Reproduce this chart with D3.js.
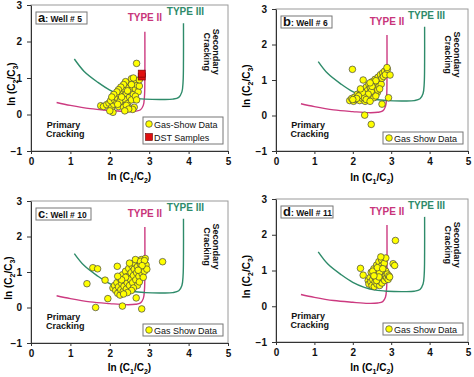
<!DOCTYPE html>
<html>
<head>
<meta charset="utf-8">
<script src="https://cdn.jsdelivr.net/npm/d3@7"></script>
<style>
  body { margin: 0; background: #fff; }
  svg { font-family: Arial, "Liberation Sans", sans-serif; }
</style>
</head>
<body>
<div id="chart"></div>
<script>
// tick values
const xTicks = [0, 1, 2, 3, 4, 5];
const yTicks = [-1, 0, 1, 2, 3];

// maturation curves (ln C1/C2, ln C2/C3)
const typeII = [[0.65,0.33],[1.0,0.25],[1.5,0.16],[2.0,0.11],[2.4,0.08],[2.65,0.09],[2.78,0.13],[2.85,0.25],[2.88,0.5],[2.89,1.0],[2.89,2.27]];
const typeIII = [[1.1,1.52],[1.35,1.18],[1.7,0.88],[2.0,0.67],[2.3,0.53],[2.6,0.45],[2.9,0.42],[3.3,0.41],[3.6,0.42],[3.75,0.47],[3.83,0.62],[3.86,0.9],[3.87,1.5],[3.87,2.5]];

// gas show data per well
const well5 = [[1.77,0.24],[1.84,0.22],[1.92,0.27],[1.98,0.31],[2.05,0.20],[2.08,0.06],[2.10,0.28],[2.02,0.38],[2.12,0.40],[2.18,0.33],[2.22,0.22],[2.15,0.50],[2.20,0.45],[2.25,0.55],[2.28,0.42],[2.32,0.30],[2.35,0.20],[2.30,0.62],[2.35,0.50],[2.38,0.68],[2.40,0.40],[2.42,0.58],[2.45,0.30],[2.48,0.72],[2.50,0.48],[2.52,0.62],[2.45,0.80],[2.50,0.88],[2.55,0.98],[2.58,0.75],[2.60,0.55],[2.55,0.40],[2.62,0.88],[2.65,0.70],[2.68,0.92],[2.70,0.80],[2.72,0.62],[2.75,0.78],[2.62,0.20],[2.58,0.14],[2.40,0.90],[2.35,0.82],[2.28,0.75],[2.22,0.68],[2.18,0.62],[2.10,0.55],[2.05,0.48],[2.25,0.35],[2.42,0.25],[2.48,0.15],[2.38,0.10],[2.68,1.40],[2.75,0.95],[2.65,0.50],[2.30,0.48],[2.55,0.82],[2.45,0.65],[2.60,1.00],[2.20,0.28],[2.00,0.10],[2.68,0.40]];
const dst5 = [[2.81,1.04],[2.81,1.12]];

const well6 = [[1.92,0.42],[1.97,0.48],[2.02,0.40],[2.05,0.52],[2.08,0.45],[2.12,0.60],[2.15,0.50],[2.18,0.42],[2.20,0.68],[2.22,0.58],[2.25,0.48],[2.28,0.72],[2.30,0.62],[2.32,0.40],[2.35,0.80],[2.36,0.55],[2.38,0.70],[2.40,0.45],[2.42,0.88],[2.44,0.62],[2.46,0.78],[2.48,0.50],[2.50,0.95],[2.52,0.70],[2.55,0.85],[2.56,0.58],[2.58,1.02],[2.60,0.75],[2.62,0.92],[2.64,0.65],[2.66,1.08],[2.68,0.82],[2.70,0.98],[2.72,1.15],[2.74,0.88],[2.76,1.05],[2.78,1.20],[2.80,1.10],[2.83,1.25],[2.85,1.15],[2.55,0.50],[2.60,0.55],[2.48,0.68],[2.40,0.60],[2.30,0.50],[2.25,0.65],[2.15,0.55],[2.10,0.48],[2.00,0.45],[2.35,0.45],[2.45,0.40],[2.65,0.72],[2.70,0.75],[2.50,0.82],[2.60,0.98],[2.45,0.92],[2.20,0.75],[2.90,1.30],[1.99,1.30],[2.27,1.00],[2.31,0.01],[2.48,-0.25],[2.76,0.32],[2.93,0.50],[2.97,1.14],[2.89,1.35]];

const well10 = [[2.08,0.55],[2.12,0.62],[2.15,0.48],[2.18,0.70],[2.20,0.40],[2.22,0.58],[2.25,0.82],[2.26,0.35],[2.28,0.50],[2.30,0.68],[2.32,0.92],[2.34,0.45],[2.36,0.60],[2.38,0.78],[2.40,1.02],[2.42,0.52],[2.44,0.70],[2.46,0.88],[2.48,1.10],[2.50,0.62],[2.52,0.80],[2.54,0.98],[2.56,1.18],[2.58,0.70],[2.60,0.90],[2.62,1.08],[2.64,1.25],[2.66,0.78],[2.68,0.98],[2.70,1.15],[2.72,1.32],[2.74,0.88],[2.76,1.05],[2.78,1.22],[2.80,1.35],[2.82,0.95],[2.84,1.12],[2.86,1.28],[2.88,1.02],[2.90,1.38],[2.92,1.20],[2.94,1.08],[2.70,0.62],[2.60,0.55],[2.55,0.48],[2.45,0.42],[2.35,0.38],[2.75,0.72],[2.85,0.85],[2.65,1.35],[2.50,1.25],[2.40,0.85],[2.30,0.78],[2.20,0.88],[2.78,1.30],[2.88,1.32],[2.82,1.18],[2.72,1.05],[1.42,0.67],[1.57,1.12],[1.69,1.09],[1.88,0.77],[1.95,0.25],[1.64,0.00],[2.19,1.16],[2.32,0.04],[2.67,0.27],[2.81,-0.04],[3.34,1.29]];

const well11 = [[2.40,0.72],[2.42,0.62],[2.45,0.80],[2.47,0.68],[2.48,0.95],[2.50,0.58],[2.52,0.75],[2.53,0.88],[2.55,1.05],[2.56,0.55],[2.58,0.68],[2.60,0.82],[2.60,0.95],[2.62,1.15],[2.63,0.62],[2.65,0.75],[2.66,0.90],[2.67,1.02],[2.68,1.25],[2.70,0.58],[2.71,0.70],[2.72,0.85],[2.73,1.00],[2.74,1.12],[2.75,1.30],[2.76,0.65],[2.78,0.78],[2.79,0.92],[2.80,1.08],[2.82,1.20],[2.83,0.72],[2.85,0.85],[2.86,0.98],[2.88,0.80],[2.90,0.90],[2.92,0.75],[2.94,0.85],[2.96,0.82],[2.58,0.80],[2.52,0.98],[2.62,0.72],[2.70,0.95],[2.68,0.82],[2.64,1.08],[2.78,1.05],[2.55,0.85],[3.11,1.84],[2.20,1.06],[2.27,0.87],[3.05,1.19],[3.09,1.14],[2.86,1.35],[2.73,1.38]];

const panels = [
  { letter: "a", well: ": Well # 5", pts: well5, dst: dst5, legend: "Gas-Show Data", xSub: ["1","2"], ySub: ["2","3"],
    l: 31, r: 228, t: 5, b: 151, xt: 180, yt: 12 },
  { letter: "b", well: ": Well # 6", pts: well6, dst: null, legend: "Gas Show Data", xSub: ["1","2"], ySub: ["2","3"],
    l: 276, r: 468, t: 9, b: 151, xt: 181, yt: 247 },
  { letter: "c", well: ": Well # 10", pts: well10, dst: null, legend: "Gas Show Data", xSub: ["1","2"], ySub: ["2","3"],
    l: 31, r: 228, t: 201, b: 343, xt: 371, yt: 9 },
  { letter: "d", well: ": Well # 11", pts: well11, dst: null, legend: "Gas Show Data", xSub: ["1","2"], ySub: ["2","3"],
    l: 276, r: 468, t: 199, b: 342, xt: 371, yt: 247 }
];

const width = 474, height = 377;
const svg = d3.select("#chart").append("svg")
    .attr("width", width).attr("height", height);

function subLabel(sel, s1, s2) { // "ln (C1/C2)" style label with subscripts
  sel.append("tspan").text("ln (C");
  sel.append("tspan").text(s1).attr("font-size", 7).attr("dy", 3);
  sel.append("tspan").text("/C").attr("dy", -3);
  sel.append("tspan").text(s2).attr("font-size", 7).attr("dy", 3);
  sel.append("tspan").text(")").attr("dy", -3);
}

panels.forEach(p => {
  const x = d3.scaleLinear().domain([0, 5]).range([p.l, p.r]);
  const y = d3.scaleLinear().domain([-1, 3]).range([p.b, p.t]);
  const g = svg.append("g");

  // plot frame
  g.append("rect")
    .attr("x", p.l).attr("y", p.t)
    .attr("width", p.r - p.l).attr("height", p.b - p.t)
    .attr("fill", "none").attr("stroke", "#9a9a9a").attr("stroke-width", 1);

  // axes
  const xa = g.append("g")
    .attr("transform", `translate(0,${p.b})`)
    .call(d3.axisBottom(x).tickValues(xTicks).tickFormat(d3.format("d")).tickSize(3).tickPadding(4).tickSizeOuter(0));
  const ya = g.append("g")
    .attr("transform", `translate(${p.l},0)`)
    .call(d3.axisLeft(y).tickValues(yTicks).tickFormat(d3.format("d")).tickSize(4).tickPadding(5).tickSizeOuter(0));
  [xa, ya].forEach(a => {
    a.select(".domain").attr("stroke", "#333");
    a.selectAll(".tick line").attr("stroke", "#333");
    a.selectAll("text").attr("font-size", 10).attr("font-weight", "bold").attr("fill", "#111")
      .attr("font-family", "Arial, 'Liberation Sans', sans-serif");
  });

  // axis titles
  g.append("text")
    .attr("x", (p.l + p.r) / 2).attr("y", p.xt)
    .attr("text-anchor", "middle").attr("font-size", 10).attr("font-weight", "bold")
    .call(subLabel, p.xSub[0], p.xSub[1]);
  g.append("text")
    .attr("transform", `translate(${p.yt + 3},${(p.t + p.b) / 2 + 6}) rotate(-90)`)
    .attr("text-anchor", "middle").attr("font-size", 10).attr("font-weight", "bold")
    .call(subLabel, p.ySub[0], p.ySub[1]);

  // curves
  const line = d3.line().x(d => x(d[0])).y(d => y(d[1])).curve(d3.curveCatmullRom.alpha(0.5));
  g.append("path").datum(typeII).attr("d", line)
    .attr("fill", "none").attr("stroke", "#cc3a80").attr("stroke-width", 1.4);
  g.append("path").datum(typeIII).attr("d", line)
    .attr("fill", "none").attr("stroke", "#2e8b6a").attr("stroke-width", 1.4);

  g.append("text").attr("x", x(2.89)).attr("y", y(2.55))
    .attr("text-anchor", "middle").attr("font-size", 10).attr("font-weight", "bold")
    .attr("fill", "#c8357a").text("TYPE II");
  g.append("text").attr("x", x(3.92)).attr("y", y(2.72))
    .attr("text-anchor", "middle").attr("font-size", 10).attr("font-weight", "bold")
    .attr("fill", "#2e8b6a").text("TYPE III");

  // cracking labels
  const pc = g.append("text").attr("font-size", 9).attr("font-weight", "bold").attr("fill", "#111");
  pc.append("tspan").attr("x", x(0.4)).attr("y", y(-0.28) + 3).text("Primary");
  pc.append("tspan").attr("x", x(0.38)).attr("y", y(-0.28) + 12).text("Cracking");

  const sc = g.append("text")
    .attr("transform", `translate(${x(4.5)},${y(1.72)}) rotate(90)`)
    .attr("text-anchor", "middle").attr("font-size", 9).attr("font-weight", "bold").attr("fill", "#111");
  sc.append("tspan").attr("x", 0).attr("y", -5).text("Secondary");
  sc.append("tspan").attr("x", 0).attr("y", 4).text("Cracking");

  // scatter points
  g.append("g").selectAll("circle")
    .data(p.pts)
    .join("circle")
    .attr("cx", d => x(d[0])).attr("cy", d => y(d[1]))
    .attr("r", 3.3)
    .attr("fill", "#ffff00").attr("stroke", "#444").attr("stroke-width", 0.7);

  if (p.dst) {
    g.append("g").selectAll("rect")
      .data(p.dst)
      .join("rect")
      .attr("x", d => x(d[0]) - 3.5).attr("y", d => y(d[1]) - 3.5)
      .attr("width", 7).attr("height", 7)
      .attr("fill", "#e01010").attr("stroke", "#600").attr("stroke-width", 0.6);
  }

  // title box
  const tb = g.append("g").attr("transform", `translate(${p.l + 5},${p.t + 7})`);
  const tw = p.letter === "a" || p.letter === "b" ? 51 : 55;
  tb.append("rect").attr("width", p.letter === "d" ? 52 : tw).attr("height", 12)
    .attr("fill", "#fff").attr("stroke", "#777").attr("stroke-width", 1);
  const tt = tb.append("text").attr("x", 2).attr("y", 10).attr("font-weight", "bold").attr("fill", "#111");
  tt.append("tspan").attr("font-size", 13).text(p.letter);
  tt.append("tspan").attr("font-size", 8.5).text(p.well);

  // legend
  const rows = p.dst ? 2 : 1;
  const lh = p.dst ? 27 : 12, lw = 80;
  const lg = g.append("g").attr("transform", `translate(${p.r - 5 - lw},${p.b - 7 - lh})`);
  lg.append("rect").attr("width", lw).attr("height", lh)
    .attr("fill", "#fff").attr("stroke", "#777").attr("stroke-width", 1);
  const r1 = p.dst ? 7 : 6;
  lg.append("circle").attr("cx", 6).attr("cy", r1).attr("r", 3.3)
    .attr("fill", "#ffff00").attr("stroke", "#444").attr("stroke-width", 0.7);
  lg.append("text").attr("x", 11).attr("y", r1 + 3.5).attr("font-size", 9).attr("fill", "#111").text(p.legend);
  if (rows === 2) {
    lg.append("rect").attr("x", 2.5).attr("y", 16.5).attr("width", 7).attr("height", 7)
      .attr("fill", "#e01010").attr("stroke", "#600").attr("stroke-width", 0.6);
    lg.append("text").attr("x", 11).attr("y", 23.5).attr("font-size", 9).attr("fill", "#111").text("DST Samples");
  }
});
</script>
</body>
</html>
